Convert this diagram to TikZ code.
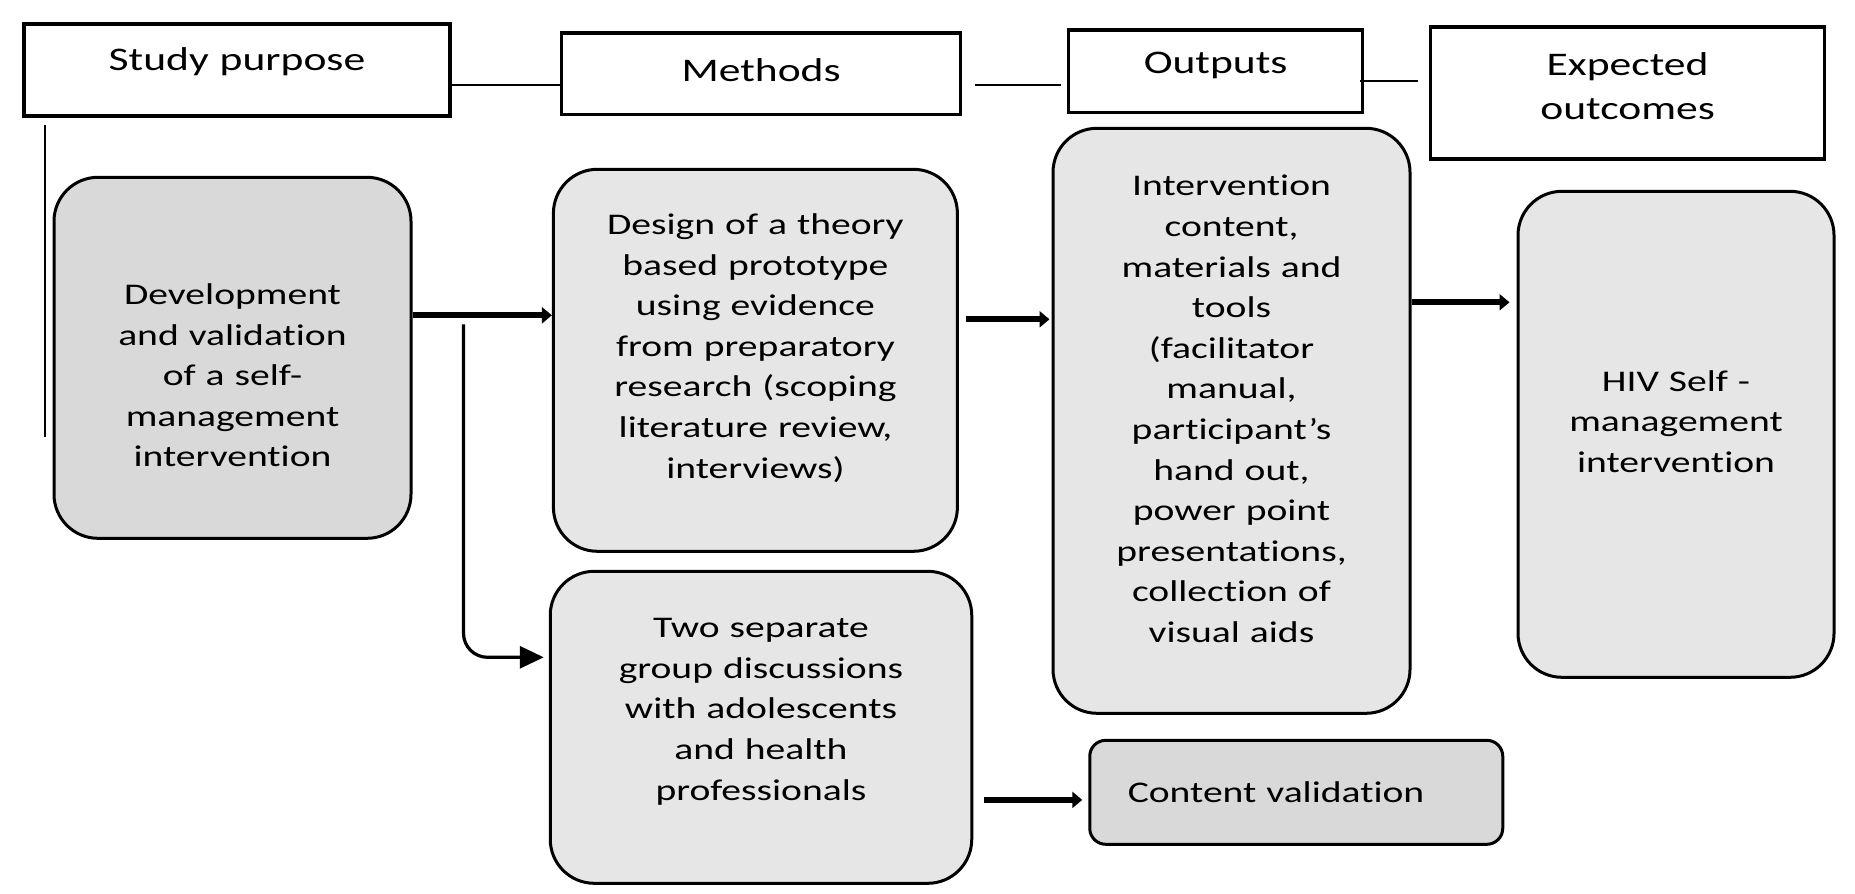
\documentclass[tikz,border=0pt]{standalone}
\usepackage{fontspec}
\setmainfont{Carlito}[FakeStretch=1.32, Ligatures=NoCommon]
\usepackage{tikz}
\usetikzlibrary{positioning,arrows.meta}
\definecolor{darkfill}{HTML}{D9D9D9}
\definecolor{lightfill}{HTML}{E7E6E6}
\newcommand{\pushup}[1]{\rule[-#1]{0pt}{0pt}}

\begin{document}
\begin{tikzpicture}[
  font=\fontsize{15}{20.3}\selectfont,
  head/.style={draw, line width=1.8pt, inner sep=0pt, align=center, font=\fontsize{16.5}{22}\selectfont},
  card/.style={draw, line width=1.5pt, rounded corners=22pt, inner sep=0pt, align=center, fill=lightfill},
  arrow/.style={-{Triangle[length=5pt,width=8pt]}, line width=3pt},
  branch/.style={-{Triangle[length=12pt,width=11pt]}, line width=1.6pt, rounded corners=12pt},
  link/.style={line width=1pt}
]
\useasboundingbox (0,0) rectangle (927.5pt,-446.5pt);

% column headings
\node[head, text width=213pt, minimum height=46pt] (purpose) at (118.5pt,-35pt) {Study purpose\pushup{11pt}};
\node[head, text width=199.5pt, minimum height=40.75pt, right=54pt of purpose, yshift=-1.9pt] (methods) {Methods\pushup{4pt}};
\node[head, text width=147pt, minimum height=41.25pt, right=52.2pt of methods, yshift=1.3pt] (outputs) {Outputs\pushup{8pt}};
\node[head, text width=197pt, minimum height=66pt, right=32.2pt of outputs, yshift=-10.9pt] (expected) {Expected\\ outcomes\pushup{7pt}};

% boxes
\node[card, fill=darkfill, text width=178.5pt, minimum height=180.5pt, below=29pt of purpose, xshift=-2.25pt] (dev) {%
  \rule{0pt}{28pt}Development\\
  and validation\\
  of a self-\\
  management\\
  intervention};
\node[card, text width=202pt, minimum height=191pt, right=69.7pt of dev, yshift=-1.25pt] (design) {%
  Design of a theory\\
  based prototype\\
  using evidence\\
  from preparatory\\
  research (scoping\\
  literature review,\\
  interviews)\pushup{14.5pt}};
\node[card, text width=178.5pt, minimum height=292.5pt, right=46.3pt of design, yshift=-30.25pt] (content) {%
  Intervention\\
  content,\\
  materials and\\
  tools\\
  (facilitator\\
  manual,\\
  participant’s\\
  hand out,\\
  power point\\
  presentations,\\
  collection of\\
  visual aids\pushup{12pt}};
\node[card, text width=158pt, minimum height=243pt, right=52.5pt of content, yshift=-6.75pt] (hiv) {%
  HIV Self -\\
  management\\
  intervention\pushup{13pt}};
\node[card, text width=210.75pt, minimum height=156pt, below=8.5pt of design, xshift=2.8pt] (groups) {%
  Two separate\\
  group discussions\\
  with adolescents\\
  and health\\
  professionals\pushup{18pt}};
\node[card, fill=darkfill, rounded corners=8pt, text width=168.5pt, inner xsep=19pt, align=left, minimum height=52pt, right=57.5pt of groups, yshift=-32.5pt] (validation) {Content validation};

% heading links
\draw[link] ([yshift=-7.5pt]purpose.east) coordinate (p1) -- (p1 -| methods.west);
\draw[link, shorten >=3pt] ([shift={(6.5pt,-5.6pt)}]methods.east) coordinate (m1) -- (m1 -| outputs.west);
\draw[link, shorten >=5.5pt] ([shift={(-2pt,-4.9pt)}]outputs.east) coordinate (o1) -- (o1 -| expected.west);
\draw[line width=0.8pt] ([shift={(11.5pt,-3.5pt)}]purpose.south west) coordinate (s1) -- ++(0,-156pt);

% flow
\draw[arrow] ([yshift=21.25pt]dev.east) coordinate (a1) -- (a1 -| design.west);
\draw[arrow, shorten <=3.5pt, shorten >=1pt] ([yshift=20.5pt]design.east) coordinate (a2) -- (a2 -| content.west);
\draw[arrow, shorten >=3.5pt] ([yshift=59.25pt]content.east) coordinate (a3) -- (a3 -| hiv.west);
\draw[arrow, shorten <=5.5pt, shorten >=3pt] ([yshift=-36.3pt]groups.east) coordinate (a4) -- (a4 -| validation.west);
\draw[branch, shorten >=2.5pt] ([shift={(25.5pt,16.75pt)}]dev.east) |- ([yshift=35pt]groups.west);
\end{tikzpicture}
\end{document}
